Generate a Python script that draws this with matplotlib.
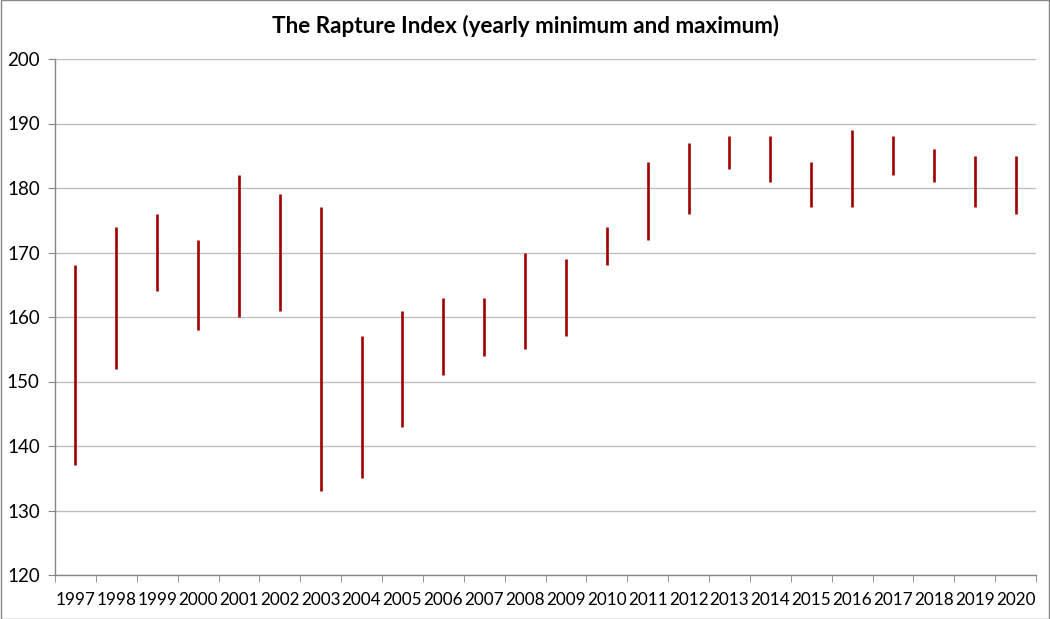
import matplotlib.pyplot as plt
from matplotlib.patches import Rectangle

years = [str(y) for y in range(1997, 2021)]
lows = [137, 152, 164, 158, 160, 161, 133, 135, 143, 151, 154, 155,
        157, 168, 172, 176, 183, 181, 177, 177, 182, 181, 177, 176]
highs = [168, 174, 176, 172, 182, 179, 177, 157, 161, 163, 163, 170,
         169, 174, 184, 187, 188, 188, 184, 189, 188, 186, 185, 185]

plt.rcParams['font.family'] = ['Lato', 'DejaVu Sans']

fig = plt.figure(figsize=(10.5, 6.19), dpi=100)
ax = fig.add_axes([55 / 1050, 44 / 619, 981 / 1050, 516 / 619])

x = list(range(len(years)))
ax.vlines(x, lows, highs, color='#a00000', linewidth=1.9, zorder=3)

ax.set_xlim(-0.5, len(years) - 0.5)
ax.set_ylim(120, 200)
ax.set_yticks(range(120, 201, 10))
ax.set_xticks(x)
ax.set_xticklabels(years, fontsize=12.3)
ax.set_xticks([i - 0.5 for i in range(len(years) + 1)], minor=True)
ax.tick_params(axis='x', which='major', length=0, pad=12)
ax.tick_params(axis='x', which='minor', length=5, color='#868686', direction='out')
ax.tick_params(axis='y', length=5, color='#868686', labelsize=13.5, pad=6)

ax.grid(axis='y', color='#bfbfbf', linewidth=1)
ax.set_axisbelow(True)
for side in ['top', 'right']:
    ax.spines[side].set_visible(False)
for side in ['left', 'bottom']:
    ax.spines[side].set_color('#868686')
    ax.spines[side].set_linewidth(1)

fig.text(0.5, 1 - 26 / 619, 'The Rapture Index (yearly minimum and maximum)',
         ha='center', va='center', fontsize=16.2, fontweight='bold')

fig.patches.append(Rectangle((0.0005, 0.0008), 0.999, 0.9984, transform=fig.transFigure,
                             fill=False, edgecolor='#888888', linewidth=1))

fig.savefig('out.png', dpi=100)
